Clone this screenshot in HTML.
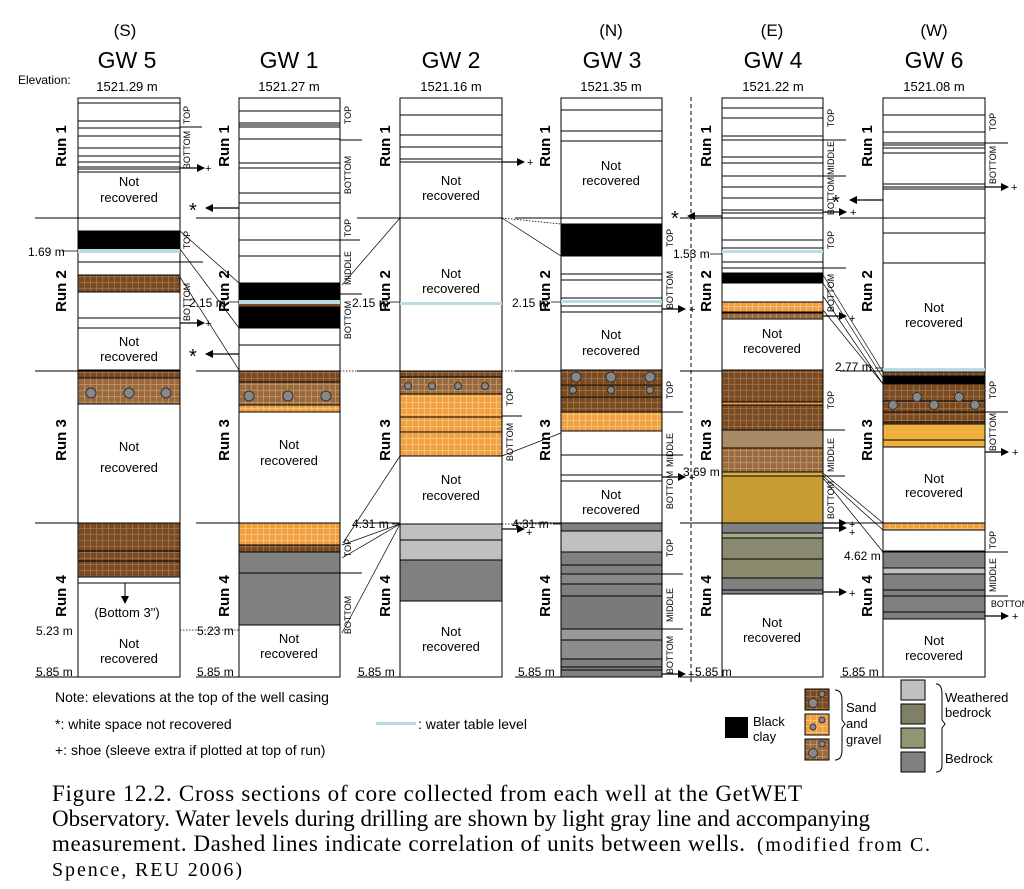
<!DOCTYPE html>
<html><head><meta charset="utf-8"><style>
html,body{margin:0;padding:0;background:#fff;}
svg{display:block;}
text{font-family:"Liberation Sans",Arial,sans-serif;}
.nr{font-size:13px;text-anchor:middle;}
.lb{font-size:9px;text-anchor:middle;}
.run{font-size:15px;font-weight:bold;text-anchor:middle;}
.m{font-size:12px;}
.cap text{font-family:"Liberation Serif",serif;font-size:23px;}
.cap text.s{font-size:20px;}
</style></head><body>
<svg width="1024" height="889" viewBox="0 0 1024 889" xmlns="http://www.w3.org/2000/svg">
<defs>
<pattern id="bd" width="6" height="6" patternUnits="userSpaceOnUse"><rect width="6" height="6" fill="#7a4a22"/><path d="M0 0.5H6M0.5 0V6" stroke="#a07850" stroke-width="0.8"/></pattern>
<pattern id="bl" width="6" height="6" patternUnits="userSpaceOnUse"><rect width="6" height="6" fill="#9a6a3e"/><path d="M0 0.5H6M0.5 0V6" stroke="#c09a70" stroke-width="0.8"/></pattern>
<pattern id="or" width="6" height="6" patternUnits="userSpaceOnUse"><rect width="6" height="6" fill="#f0a040"/><path d="M0 0.5H6M0.5 0V6" stroke="#f8c888" stroke-width="0.8"/></pattern>
<marker id="ah" markerWidth="8" markerHeight="8" refX="7" refY="4" orient="auto" markerUnits="userSpaceOnUse"><path d="M0 0L8 4L0 8z" fill="#000"/></marker>
</defs>

<g font-size="17" text-anchor="middle"><text x="125" y="36">(S)</text><text x="611" y="36">(N)</text><text x="772" y="36">(E)</text><text x="934" y="36">(W)</text></g>
<g font-size="23" text-anchor="middle"><text x="127" y="68">GW 5</text><text x="289" y="68">GW 1</text><text x="451" y="68">GW 2</text><text x="612" y="68">GW 3</text><text x="773" y="68">GW 4</text><text x="934" y="68">GW 6</text></g>
<text x="18" y="84" font-size="12">Elevation:</text>
<g font-size="13" text-anchor="middle"><text x="127" y="91">1521.29 m</text><text x="289" y="91">1521.27 m</text><text x="451" y="91">1521.16 m</text><text x="611" y="91">1521.35 m</text><text x="773" y="91">1521.22 m</text><text x="934" y="91">1521.08 m</text></g>

<g stroke="#000" stroke-width="1">
<path d="M35 218H78M35 371H78M35 523H78M35 677H78"/>
<path d="M196 218H239M196 371H239M196 523H239M196 677H239"/>
<path d="M357 218H400M357 371H400M357 523H400M357 677H400"/>
<path d="M515 218H561M515 371H561M515 523H561M515 677H561"/>
<path d="M680 218H722M680 371H722M680 523H722M680 677H722"/>
<path d="M840 218H883M840 371H883M840 523H883M840 677H883"/>
</g>
<line x1="691" y1="97" x2="691" y2="682" stroke="#000" stroke-dasharray="4,3"/>

<g transform="translate(78,0)" stroke="#000">
<rect x="0" y="98" width="102" height="579" fill="#fff"/>
<rect x="0" y="231" width="102" height="18" fill="#000"/>
<rect x="0" y="249" width="102" height="4" fill="#b8dde0" stroke="none"/>
<rect x="0" y="275" width="102" height="17" fill="url(#bd)"/>
<rect x="0" y="370" width="102" height="8" fill="url(#bd)"/>
<rect x="0" y="378" width="102" height="26" fill="url(#bl)"/>
<rect x="0" y="523" width="102" height="54" fill="url(#bd)"/>
<path d="M0 103H102M0 121H102M0 128H102M0 136H102M0 148H102M0 156H102M0 162H102M0 167H102M0 169H102M0 172H102M0 218H102M0 262H102M0 318H102M0 328H102M0 371H102M0 551H102M0 561H102M0 583H102"/>
<g fill="#888" stroke="#333"><circle cx="13" cy="393" r="5"/><circle cx="51" cy="393" r="5"/><circle cx="88" cy="393" r="5"/></g>
<line x1="47" y1="583" x2="47" y2="603" marker-end="url(#ah)"/>
</g>
<g fill="#000"><text class="nr" x="129" y="186">Not</text><text class="nr" x="129" y="202">recovered</text>
<text class="nr" x="129" y="346">Not</text><text class="nr" x="129" y="361">recovered</text>
<text class="nr" x="129" y="451">Not</text><text class="nr" x="129" y="472">recovered</text>
<text class="nr" x="127" y="617">(Bottom 3")</text>
<text class="nr" x="129" y="648">Not</text><text class="nr" x="129" y="663">recovered</text></g>

<g transform="translate(239,0)" stroke="#000">
<rect x="0" y="98" width="101" height="579" fill="#fff"/>
<rect x="0" y="283" width="101" height="17" fill="#000"/>
<rect x="0" y="300" width="101" height="4" fill="#b8dde0" stroke="none"/>
<rect x="0" y="304" width="101" height="3" fill="#7a4a22" stroke="none"/>
<rect x="0" y="307" width="101" height="21" fill="#000"/>
<rect x="0" y="371" width="101" height="11" fill="url(#bd)"/>
<rect x="0" y="382" width="101" height="23" fill="url(#bl)"/>
<rect x="0" y="405" width="101" height="7" fill="url(#or)"/>
<rect x="0" y="523" width="101" height="22" fill="url(#or)"/>
<rect x="0" y="545" width="101" height="7" fill="url(#bd)"/>
<rect x="0" y="552" width="101" height="21" fill="#808080"/>
<rect x="0" y="573" width="101" height="52" fill="#808080"/>
<path d="M0 111H101M0 123H101M0 125H101M0 127H101M0 139H101M0 163H101M0 168H101M0 193H101M0 203H101M0 218H101M0 240H101M0 256H101M0 345H101"/>
<g fill="#888" stroke="#333"><circle cx="10" cy="396" r="5"/><circle cx="49" cy="396" r="5"/><circle cx="87" cy="396" r="5"/></g>
</g>
<g fill="#000"><text class="nr" x="289" y="449">Not</text><text class="nr" x="289" y="465">recovered</text>
<text class="nr" x="289" y="643">Not</text><text class="nr" x="289" y="658">recovered</text></g>

<g transform="translate(400,0)" stroke="#000">
<rect x="0" y="98" width="102" height="579" fill="#fff"/>
<rect x="0" y="302" width="102" height="3" fill="#b8dde0" stroke="none"/>
<rect x="0" y="371" width="102" height="6" fill="url(#bd)"/>
<rect x="0" y="377" width="102" height="17" fill="url(#bl)"/>
<rect x="0" y="394" width="102" height="62" fill="url(#or)"/>
<rect x="0" y="524" width="102" height="36" fill="#c0c0c0"/>
<rect x="0" y="560" width="102" height="41" fill="#808080"/>
<path d="M0 115H102M0 135H102M0 147H102M0 159H102M0 162H102M0 218H102M0 417H102M0 432H102M0 540H102"/>
<g fill="#888" stroke="#333"><circle cx="8" cy="386" r="3.5"/><circle cx="32" cy="386" r="3.5"/><circle cx="58" cy="386" r="3.5"/><circle cx="85" cy="386" r="3.5"/></g>
</g>
<g fill="#000"><text class="nr" x="451" y="185">Not</text><text class="nr" x="451" y="200">recovered</text>
<text class="nr" x="451" y="278">Not</text><text class="nr" x="451" y="293">recovered</text>
<text class="nr" x="451" y="484">Not</text><text class="nr" x="451" y="500">recovered</text>
<text class="nr" x="451" y="636">Not</text><text class="nr" x="451" y="651">recovered</text></g>

<g transform="translate(561,0)" stroke="#000">
<rect x="0" y="98" width="101" height="579" fill="#fff"/>
<rect x="0" y="224" width="101" height="32" fill="#000"/>
<rect x="0" y="300" width="101" height="3" fill="#b8dde0" stroke="none"/>
<rect x="0" y="370" width="101" height="42" fill="url(#bd)"/>
<rect x="0" y="412" width="101" height="19" fill="url(#or)"/>
<rect x="0" y="523" width="101" height="8" fill="#808080"/>
<rect x="0" y="531" width="101" height="21" fill="#c0c0c0"/>
<rect x="0" y="552" width="101" height="74" fill="#808080"/>
<rect x="0" y="574" width="101" height="10" fill="#888"/>
<rect x="0" y="596" width="101" height="33" fill="#7a7a7a"/>
<rect x="0" y="629" width="101" height="11" fill="#999"/>
<rect x="0" y="640" width="101" height="19" fill="#8c8c8c"/>
<rect x="0" y="659" width="101" height="18" fill="#808080"/>
<path d="M0 110H101M0 131H101M0 141H101M0 218H101M0 274H101M0 280H101M0 298H101M0 306H101M0 312H101M0 385H101M0 397H101M0 455H101M0 475H101M0 481H101M0 565H101M0 574H101M0 584H101M0 596H101M0 629H101M0 640H101M0 659H101M0 667H101M0 670H101"/>
<g fill="#888" stroke="#333"><circle cx="15" cy="377" r="5"/><circle cx="50" cy="377" r="5"/><circle cx="89" cy="377" r="5"/><circle cx="12" cy="390" r="3.5"/><circle cx="50" cy="390" r="3.5"/><circle cx="89" cy="390" r="3.5"/></g>
</g>
<g fill="#000"><text class="nr" x="611" y="170">Not</text><text class="nr" x="611" y="185">recovered</text>
<text class="nr" x="611" y="339">Not</text><text class="nr" x="611" y="355">recovered</text>
<text class="nr" x="611" y="499">Not</text><text class="nr" x="611" y="514">recovered</text></g>

<g transform="translate(722,0)" stroke="#000">
<rect x="0" y="98" width="101" height="579" fill="#fff"/>
<rect x="0" y="250" width="101" height="3" fill="#b8dde0" stroke="none"/>
<rect x="0" y="273" width="101" height="10" fill="#000"/>
<rect x="0" y="302" width="101" height="10" fill="url(#or)"/>
<rect x="0" y="313" width="101" height="6" fill="url(#bl)"/>
<rect x="0" y="370" width="101" height="32" fill="url(#bd)"/>
<rect x="0" y="402" width="101" height="3" fill="#f0a040"/>
<rect x="0" y="405" width="101" height="25" fill="url(#bd)"/>
<rect x="0" y="430" width="101" height="18" fill="#a88a66"/>
<rect x="0" y="448" width="101" height="24" fill="url(#bl)"/>
<rect x="0" y="472" width="101" height="4" fill="#d4b044"/>
<rect x="0" y="476" width="101" height="47" fill="#c89c34"/>
<rect x="0" y="523" width="101" height="10" fill="#808080"/>
<rect x="0" y="533" width="101" height="5" fill="#a8ac8c"/>
<rect x="0" y="538" width="101" height="40" fill="#8a8a6e"/>
<rect x="0" y="578" width="101" height="16" fill="#808080"/>
<path d="M0 108H101M0 118H101M0 136H101M0 140H101M0 157H101M0 163H101M0 176H101M0 187H101M0 198H101M0 210H101M0 213H101M0 218H101M0 240H101M0 248H101M0 262H101M0 268H101M0 559H101M0 590H101"/>
</g>
<g fill="#000"><text class="nr" x="772" y="338">Not</text><text class="nr" x="772" y="353">recovered</text>
<text class="nr" x="772" y="627">Not</text><text class="nr" x="772" y="642">recovered</text></g>

<g transform="translate(883,0)" stroke="#000">
<rect x="0" y="98" width="102" height="579" fill="#fff"/>
<rect x="0" y="368" width="102" height="3" fill="#b8dde0" stroke="none"/>
<rect x="0" y="372" width="102" height="4" fill="url(#bd)"/>
<rect x="0" y="376" width="102" height="8" fill="#000"/>
<rect x="0" y="384" width="102" height="40" fill="url(#bd)"/>
<rect x="0" y="424" width="102" height="23" fill="#f0b040"/>
<rect x="0" y="523" width="102" height="7" fill="url(#or)"/>
<rect x="0" y="552" width="102" height="16" fill="#808080"/>
<rect x="0" y="568" width="102" height="6" fill="#c0c0c0"/>
<rect x="0" y="574" width="102" height="45" fill="#808080"/>
<path d="M0 115H102M0 132H102M0 143H102M0 145H102M0 148H102M0 153H102M0 184H102M0 187H102M0 189H102M0 218H102M0 233H102M0 263H102M0 401H102M0 412H102M0 422H102M0 440H102M0 551H102M0 590H102M0 596H102M0 612H102"/>
<g fill="#888" stroke="#333"><circle cx="34" cy="397" r="4.5"/><circle cx="76" cy="397" r="4.5"/><circle cx="10" cy="405" r="4.5"/><circle cx="51" cy="405" r="4.5"/><circle cx="92" cy="405" r="4.5"/></g>
</g>
<g fill="#000"><text class="nr" x="934" y="312">Not</text><text class="nr" x="934" y="327">recovered</text>
<text class="nr" x="934" y="483">Not</text><text class="nr" x="934" y="497">recovered</text>
<text class="nr" x="934" y="645">Not</text><text class="nr" x="934" y="660">recovered</text></g>

<g>
<text class="run" transform="translate(66,146) rotate(-90)">Run 1</text><text class="run" transform="translate(66,291) rotate(-90)">Run 2</text><text class="run" transform="translate(66,440) rotate(-90)">Run 3</text><text class="run" transform="translate(66,596) rotate(-90)">Run 4</text>
<text class="run" transform="translate(229,146) rotate(-90)">Run 1</text><text class="run" transform="translate(229,291) rotate(-90)">Run 2</text><text class="run" transform="translate(229,440) rotate(-90)">Run 3</text><text class="run" transform="translate(229,596) rotate(-90)">Run 4</text>
<text class="run" transform="translate(390,146) rotate(-90)">Run 1</text><text class="run" transform="translate(390,291) rotate(-90)">Run 2</text><text class="run" transform="translate(390,440) rotate(-90)">Run 3</text><text class="run" transform="translate(390,596) rotate(-90)">Run 4</text>
<text class="run" transform="translate(550,146) rotate(-90)">Run 1</text><text class="run" transform="translate(550,291) rotate(-90)">Run 2</text><text class="run" transform="translate(550,440) rotate(-90)">Run 3</text><text class="run" transform="translate(550,596) rotate(-90)">Run 4</text>
<text class="run" transform="translate(711,146) rotate(-90)">Run 1</text><text class="run" transform="translate(711,291) rotate(-90)">Run 2</text><text class="run" transform="translate(711,440) rotate(-90)">Run 3</text><text class="run" transform="translate(711,596) rotate(-90)">Run 4</text>
<text class="run" transform="translate(872,146) rotate(-90)">Run 1</text><text class="run" transform="translate(872,291) rotate(-90)">Run 2</text><text class="run" transform="translate(872,440) rotate(-90)">Run 3</text><text class="run" transform="translate(872,596) rotate(-90)">Run 4</text>
</g>

<g stroke="#000" stroke-width="1">
<path d="M180 127H202M180 262H203"/>
<path d="M340 140H362M340 240H360M340 294H362M340 573H362"/>
<path d="M502 416H522"/>
<path d="M662 412H683M662 455H683M662 574H683M662 629H683"/>
<path d="M823 140H846M823 176H846M823 268H846M823 430H845M823 476H845"/>
<path d="M985 143H1008M985 412H1008M985 552H1008M985 596H1008"/>
</g>
<g fill="#000">
<text class="lb" transform="translate(190,115) rotate(-90)">TOP</text><text class="lb" transform="translate(190,150) rotate(-90)">BOTTOM</text>
<text class="lb" transform="translate(190,240) rotate(-90)">TOP</text><text class="lb" transform="translate(190,302) rotate(-90)">BOTTOM</text>
<text class="lb" transform="translate(351,115) rotate(-90)">TOP</text><text class="lb" transform="translate(351,175) rotate(-90)">BOTTOM</text>
<text class="lb" transform="translate(351,228) rotate(-90)">TOP</text><text class="lb" transform="translate(351,268) rotate(-90)">MIDDLE</text><text class="lb" transform="translate(351,320) rotate(-90)">BOTTOM</text>
<text class="lb" transform="translate(351,548) rotate(-90)">TOP</text><text class="lb" transform="translate(351,615) rotate(-90)">BOTTOM</text>
<text class="lb" transform="translate(513,397) rotate(-90)">TOP</text><text class="lb" transform="translate(513,442) rotate(-90)">BOTTOM</text>
<text class="lb" transform="translate(673,238) rotate(-90)">TOP</text><text class="lb" transform="translate(673,290) rotate(-90)">BOTTOM</text>
<text class="lb" transform="translate(673,390) rotate(-90)">TOP</text><text class="lb" transform="translate(673,450) rotate(-90)">MIDDLE</text><text class="lb" transform="translate(673,490) rotate(-90)">BOTTOM</text>
<text class="lb" transform="translate(673,548) rotate(-90)">TOP</text><text class="lb" transform="translate(673,605) rotate(-90)">MIDDLE</text><text class="lb" transform="translate(673,655) rotate(-90)">BOTTOM</text>
<text class="lb" transform="translate(834,118) rotate(-90)">TOP</text><text class="lb" transform="translate(834,158) rotate(-90)">MIDDLE</text><text class="lb" transform="translate(834,196) rotate(-90)">BOTTOM</text>
<text class="lb" transform="translate(834,240) rotate(-90)">TOP</text><text class="lb" transform="translate(834,293) rotate(-90)">BOTTOM</text>
<text class="lb" transform="translate(834,400) rotate(-90)">TOP</text><text class="lb" transform="translate(834,455) rotate(-90)">MIDDLE</text><text class="lb" transform="translate(834,500) rotate(-90)">BOTTOM</text>
<text class="lb" transform="translate(996,122) rotate(-90)">TOP</text><text class="lb" transform="translate(996,165) rotate(-90)">BOTTOM</text>
<text class="lb" transform="translate(996,390) rotate(-90)">TOP</text><text class="lb" transform="translate(996,432) rotate(-90)">BOTTOM</text>
<text class="lb" transform="translate(996,540) rotate(-90)">TOP</text><text class="lb" transform="translate(996,575) rotate(-90)">MIDDLE</text>
<text x="1010" y="607" font-size="9" text-anchor="middle">BOTTOM</text>
</g>

<g stroke="#000" stroke-width="1.2" marker-end="url(#ah)">
<line x1="180" y1="168" x2="204" y2="168"/><line x1="180" y1="323" x2="204" y2="323"/>
<line x1="502" y1="162" x2="524" y2="162"/><line x1="502" y1="529" x2="524" y2="529"/>
<line x1="662" y1="309" x2="685" y2="309"/><line x1="662" y1="477" x2="685" y2="477"/><line x1="662" y1="674" x2="685" y2="674"/>
<line x1="823" y1="212" x2="846" y2="212"/><line x1="823" y1="316" x2="846" y2="316"/><line x1="823" y1="523" x2="846" y2="523"/><line x1="823" y1="528" x2="846" y2="528"/><line x1="823" y1="592" x2="846" y2="592"/>
<line x1="985" y1="187" x2="1008" y2="187"/><line x1="985" y1="452" x2="1008" y2="452"/><line x1="985" y1="616" x2="1008" y2="616"/>
<line x1="239" y1="208" x2="206" y2="208"/><line x1="239" y1="354" x2="206" y2="354"/>
<line x1="722" y1="216" x2="688" y2="216"/><line x1="883" y1="200" x2="850" y2="200"/>
</g>
<g font-size="11" fill="#000">
<text x="205" y="172">+</text><text x="205" y="327">+</text><text x="527" y="166">+</text><text x="526" y="536">+</text>
<text x="689" y="313">+</text><text x="689" y="481">+</text><text x="688" y="678">+</text>
<text x="850" y="216">+</text><text x="849" y="322">+</text><text x="849" y="528">+</text><text x="849" y="536">+</text><text x="849" y="597">+</text>
<text x="1011" y="191">+</text><text x="1012" y="456">+</text><text x="1012" y="620">+</text>
</g>
<g font-size="20" fill="#000"><text x="189" y="217">*</text><text x="189" y="363">*</text><text x="671" y="225">*</text><text x="832" y="209">*</text></g>

<g class="m" fill="#000">
<text x="28" y="256">1.69 m</text><text x="189" y="307">2.15 m</text><text x="352" y="307">2.15 m</text><text x="512" y="307">2.15 m</text>
<text x="673" y="258">1.53 m</text><text x="835" y="371">2.77 m</text><text x="683" y="476">3.69 m</text>
<text x="352" y="528">4.31 m</text><text x="512" y="528">4.31 m</text><text x="844" y="560">4.62 m</text>
<text x="36" y="635">5.23 m</text><text x="197" y="635">5.23 m</text>
<text x="36" y="676">5.85 m</text><text x="197" y="676">5.85 m</text><text x="358" y="676">5.85 m</text><text x="518" y="676">5.85 m</text><text x="695" y="676">5.85 m</text><text x="842" y="676">5.85 m</text>
</g>
<g stroke="#000" stroke-width="0.8">
<path d="M62 251H78M229 302H239M390 302H400M551 302H561M710 254H722M875 368H883M392 524H400M553 524H561M882 552H883"/>
</g>

<g stroke="#000" stroke-width="0.7" fill="none">
<path d="M180 231L239 283M180 249L239 328M180 277L239 370"/>
<path d="M342 285L400 218M343 543L400 456M342 558L400 524M342 633L400 524M342 545L400 524"/>
<path d="M502 218L561 256M502 456L561 433"/>
<path d="M823 275L883 372M823 283L883 378M823 296L883 384M823 310L883 384"/>
<path d="M823 473L883 523M823 476L883 530M823 478L883 552"/>
</g>
<g stroke="#000" stroke-width="0.8" stroke-dasharray="1.5,1.5" fill="none">
<path d="M502 218L561 224M340 371H400M502 371H561M502 524H561M180 630H239"/>
</g>

<g font-size="14" fill="#000">
<text x="55" y="702">Note: elevations at the top of the well casing</text>
<text x="55" y="729">*: white space not recovered</text>
<text x="418" y="729">: water table level</text>
<text x="55" y="755">+: shoe (sleeve extra if plotted at top of run)</text>
</g>
<rect x="376" y="722" width="40" height="3" fill="#b8dde0"/>
<rect x="725" y="717" width="23" height="21" fill="#000"/>
<g font-size="13" fill="#000"><text x="753" y="726">Black</text><text x="753" y="741">clay</text>
<text x="846" y="712">Sand</text><text x="846" y="728">and</text><text x="846" y="744">gravel</text>
<text x="945" y="702">Weathered</text><text x="945" y="717">bedrock</text><text x="945" y="763">Bedrock</text></g>
<g stroke="#000">
<rect x="805" y="689" width="24" height="21" fill="url(#bd)"/>
<rect x="805" y="714" width="24" height="21" fill="url(#or)"/>
<rect x="805" y="739" width="24" height="21" fill="url(#bl)"/>
</g>
<g fill="#888" stroke="#333"><circle cx="813" cy="703" r="4.5"/><circle cx="822" cy="694" r="3"/><circle cx="813" cy="727" r="3"/><circle cx="822" cy="720" r="3"/><circle cx="813" cy="753" r="4.5"/><circle cx="822" cy="744" r="3"/></g>
<path d="M835 690Q842 690 842 700V720L845 724L842 728V750Q842 760 835 760" stroke="#000" fill="none"/>
<g stroke="#000"><rect x="901" y="680" width="24" height="20" fill="#c0c0c0"/><rect x="901" y="704" width="24" height="20" fill="#808068"/><rect x="901" y="728" width="24" height="20" fill="#8e9674"/><rect x="901" y="752" width="24" height="20" fill="#808080"/></g>
<path d="M936 684Q942 684 942 694V720L945 724L942 728V765Q942 772 936 772" stroke="#000" fill="none"/>

<g class="cap" fill="#000">
<text x="52" y="801" textLength="750" lengthAdjust="spacing">Figure 12.2.  Cross sections of core collected from each well at the GetWET</text>
<text x="52" y="826" textLength="818" lengthAdjust="spacing">Observatory.  Water levels during drilling are shown by light gray line and accompanying</text>
<text x="52" y="851" textLength="693" lengthAdjust="spacing">measurement.  Dashed lines indicate correlation of units between wells.</text>
<text class="s" x="757" y="851" textLength="173" lengthAdjust="spacing">(modified from C.</text>
<text class="s" x="52" y="876" textLength="190" lengthAdjust="spacing">Spence, REU 2006)</text>
</g>
</svg>
</body></html>
